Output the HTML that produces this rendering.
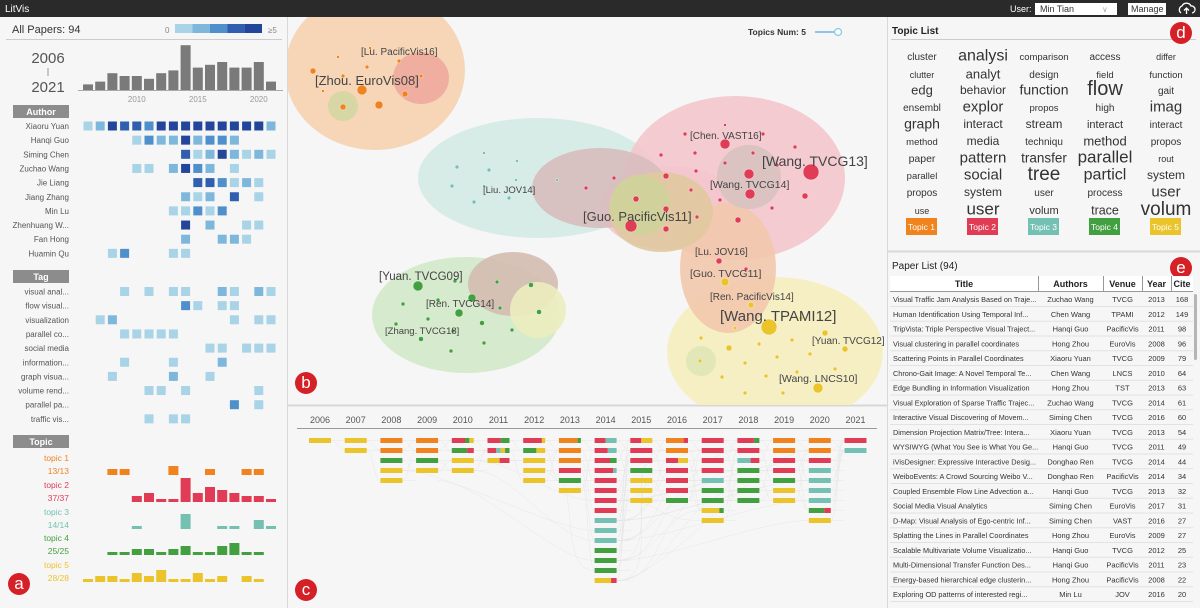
<!DOCTYPE html>
<html><head><meta charset="utf-8">
<style>
html,body{margin:0;padding:0;background:#f6f6f6;width:1200px;height:608px;overflow:hidden;font-family:"Liberation Sans",sans-serif}
svg text{font-family:"Liberation Sans",sans-serif}
</style></head>
<body>
<svg id="s" width="1200" height="608" viewBox="0 0 1200 608" xmlns="http://www.w3.org/2000/svg">
<rect x="0" y="0" width="1200" height="608" fill="#f6f6f6"/>
<g>
<rect x="0" y="0" width="1200" height="17" fill="#2a2a2a"/>
<text x="5" y="12" fill="#fff" font-size="10">LitVis</text>
<text x="1010" y="12" fill="#fff" font-size="9">User:</text>
<g><rect x="1035" y="3" width="82" height="12" fill="#fff"/><text x="1040" y="12" font-size="9" fill="#333">Min Tian</text><text x="1102" y="12" font-size="8" fill="#aaa">∨</text></g>
<g><rect x="1128" y="3" width="38" height="12" fill="#fff"/><text x="1131" y="12" font-size="9" fill="#333">Manage</text></g>
<g><path d="M1181 13 a4 4 0 0 1 1-7 a5 5 0 0 1 9 0 a3.5 3.5 0 0 1 1 7" fill="none" stroke="#fff" stroke-width="1.3"/><path d="M1186.5 14 v-6 m-2.5 2.5 l2.5-2.5 2.5 2.5" fill="none" stroke="#fff" stroke-width="1.3"/></g>
</g>
<line x1="287.5" y1="17" x2="287.5" y2="608" stroke="#d8d8d8"/>
<line x1="887.5" y1="17" x2="887.5" y2="608" stroke="#d8d8d8"/>
<line x1="288" y1="405.5" x2="887" y2="405.5" stroke="#d8d8d8" stroke-width="2"/>
<line x1="888" y1="251.5" x2="1200" y2="251.5" stroke="#d8d8d8" stroke-width="2"/>
<g id="left"></g>
<g id="mid"></g>
<g id="flow"></g>
<g id="right"></g>
<g id="plist"></g>
</svg>
<script>
const years=[2006,2007,2008,2009,2010,2011,2012,2013,2014,2015,2016,2017,2018,2019,2020,2021];
const yearCounts=[2,3,6,5,5,4,6,7,16,8,9,10,8,8,10,3];
const authors=["Xiaoru Yuan","Hanqi Guo","Siming Chen","Zuchao Wang","Jie Liang","Jiang Zhang","Min Lu","Zhenhuang W...","Fan Hong","Huamin Qu"];
const authorLevels=[
[1,2,5,4,4,3,5,5,5,5,5,5,5,5,5,2],
[0,0,0,0,1,3,2,2,5,2,3,3,2,0,0,0],
[0,0,0,0,0,0,0,0,4,1,2,5,2,1,2,1],
[0,0,0,0,1,1,0,2,5,3,2,0,1,0,0,0],
[0,0,0,0,0,0,0,0,0,4,4,3,1,2,1,0],
[0,0,0,0,0,0,0,0,2,1,2,0,4,0,1,0],
[0,0,0,0,0,0,0,1,1,3,1,3,0,0,0,0],
[0,0,0,0,0,0,0,0,5,0,2,0,0,1,1,0],
[0,0,0,0,0,0,0,0,2,0,0,2,2,1,0,0],
[0,0,1,3,0,0,0,1,1,0,0,0,0,0,0,0]];
const tags=["visual anal...","flow visual...","visualization","parallel co...","social media","information...","graph visua...","volume rend...","parallel pa...","traffic vis..."];
const tagLevels=[
[0,0,0,1,0,1,0,1,1,0,0,2,1,0,2,1],
[0,0,0,0,0,0,0,0,3,1,0,1,1,0,0,0],
[0,1,2,0,0,0,0,0,0,0,0,0,1,0,1,1],
[0,0,0,1,1,1,1,1,0,0,0,0,0,0,0,0],
[0,0,0,0,0,0,0,0,0,0,1,1,0,1,1,1],
[0,0,0,1,0,0,0,1,0,0,0,2,0,0,0,0],
[0,0,1,0,0,0,0,2,0,0,1,0,0,0,0,0],
[0,0,0,0,0,1,1,0,1,0,0,0,0,0,1,0],
[0,0,0,0,0,0,0,0,0,0,0,0,3,0,1,0],
[0,0,0,0,0,1,0,1,1,0,0,0,0,0,0,0]];
const topicNames=["topic 1","topic 2","topic 3","topic 4","topic 5"];
const topicTotals=["13/13","37/37","14/14","25/25","28/28"];
const topicColors=["#f0831e","#e03c55","#74c1b3","#43a040","#ebc42c"];
const topicYear=[
[0,0,2,2,0,0,0,3,0,0,2,0,0,2,2,0],
[0,0,0,0,2,3,1,1,8,3,5,4,3,2,2,1],
[0,0,0,0,1,0,0,0,5,0,0,1,1,0,3,1],
[0,0,1,1,2,2,1,2,3,1,1,3,4,1,1,0],
[1,2,2,1,3,2,4,1,1,3,1,2,0,2,1,0]];
const levelColors=["#c9ddf0","#a9d3e6","#7db8dc","#4f8fcc","#2f5fae","#24469a"];

const NS="http://www.w3.org/2000/svg";
function el(p,tag,attrs,txt){const e=document.createElementNS(NS,tag);for(const k in attrs)e.setAttribute(k,attrs[k]);if(txt!==undefined)e.textContent=txt;p.appendChild(e);return e;}
function badge(p,x,y,ch,name){const g=el(p,"g",{});el(g,"circle",{cx:x,cy:y,r:11,fill:"#d42026"});el(g,"text",{x:x,y:y+5,fill:"#fff","font-size":17,"text-anchor":"middle"},ch);}

// ---------- left panel ----------
const L=document.getElementById("left");
const xYear=i=>88+i*12.2;
el(L,"text",{x:12,y:33,"font-size":11,fill:"#333"},"All Papers: 94");
el(L,"text",{x:165,y:33,"font-size":8,fill:"#888"},"0");
for(let i=0;i<5;i++){const r=el(L,"rect",{x:175+i*17.4,y:24,width:17.4,height:9,fill:levelColors[i+1]});}
el(L,"text",{x:268,y:33,"font-size":8,fill:"#888"},"≥5");
el(L,"line",{x1:6,y1:39.5,x2:282,y2:39.5,stroke:"#ccc"});
el(L,"text",{x:48,y:63,"font-size":15,fill:"#555","text-anchor":"middle"},"2006");
el(L,"line",{x1:48,y1:68,x2:48,y2:76,stroke:"#999"});
el(L,"text",{x:48,y:92,"font-size":15,fill:"#555","text-anchor":"middle"},"2021");
const histBase=90, histUnit=2.8;
yearCounts.forEach((c,i)=>{const r=el(L,"rect",{x:xYear(i)-5,y:histBase-c*histUnit,width:10,height:c*histUnit,fill:"#7a7a7a"});});
el(L,"line",{x1:78,y1:histBase+0.5,x2:283,y2:histBase+0.5,stroke:"#aaa"});
[2010,2015,2020].forEach(y=>el(L,"text",{x:xYear(y-2006),y:102,"font-size":8,fill:"#999","text-anchor":"middle"},String(y)));
function header(y,label,name){const g=el(L,"g",{});el(g,"rect",{x:13,y:y,width:56,height:13,fill:"#8c8c8c"});el(g,"text",{x:41,y:y+10,"font-size":9,fill:"#fff","text-anchor":"middle","font-weight":"bold"},label);}
header(105,"Author","author-section-header");
function matrix(names,levels,y0,nm){names.forEach((n,r)=>{const y=y0+r*14.15;el(L,"text",{x:69,y:y+3,"font-size":8,fill:"#555","text-anchor":"end"},n);levels[r].forEach((v,i)=>{if(!v)return;const c=el(L,"rect",{x:xYear(i)-4.5,y:y-4.5,width:9,height:9,fill:levelColors[v]});});});}
matrix(authors,authorLevels,126,'author-year-cell');
header(270,"Tag","tag-section-header");
matrix(tags,tagLevels,291.5,'tag-year-cell');
header(435,"Topic","topic-section-header");
const topicBase=[475,502,529,555,582];
topicNames.forEach((n,t)=>{el(L,"text",{x:69,y:topicBase[t]-14,"font-size":8.5,fill:topicColors[t],"text-anchor":"end"},n);el(L,"text",{x:69,y:topicBase[t]-1,"font-size":8.5,fill:topicColors[t],"text-anchor":"end"},topicTotals[t]);
topicYear[t].forEach((v,i)=>{if(!v)return;const r=el(L,"rect",{x:xYear(i)-5,y:topicBase[t]-v*3,width:10,height:v*3,fill:topicColors[t]});});});
badge(L,19,584,"a","panel-a-badge");

// ---------- middle topic map ----------
const M=document.getElementById("mid");
el(M,"defs",{}).innerHTML='<clipPath id="mc"><rect x="288" y="17" width="599" height="388"/></clipPath>';
const G=el(M,"g",{"clip-path":"url(#mc)"});
const blobs=[
["ellipse",{cx:375,cy:70,rx:90,ry:80,fill:"#f6d3b0"}],
["ellipse",{cx:421,cy:78,rx:28,ry:26,fill:"#eeaa9c"}],
["circle",{cx:343,cy:106,r:15,fill:"#d4d7a4"}],
["ellipse",{cx:538,cy:178,rx:120,ry:60,fill:"#d5ebe5"}],
["ellipse",{cx:735,cy:178,rx:110,ry:82,fill:"#f3c6cc"}],
["ellipse",{cx:670,cy:208,rx:70,ry:42,fill:"#f3c6cc"}],
["ellipse",{cx:600,cy:188,rx:68,ry:40,fill:"#d8bcbc"}],
["ellipse",{cx:775,cy:352,rx:108,ry:75,fill:"#f6eebf"}],
["ellipse",{cx:728,cy:268,rx:48,ry:65,fill:"#f3c8ad"}],
["ellipse",{cx:661,cy:212,rx:52,ry:40,fill:"#e0c9a0"}],
["circle",{cx:640,cy:205,r:30,fill:"#cfd39a"}],
["circle",{cx:749,cy:177,r:32,fill:"#d8c2c0"}],
["ellipse",{cx:466,cy:315,rx:94,ry:58,fill:"#d3e9c9"}],
["ellipse",{cx:513,cy:284,rx:45,ry:32,fill:"#d4bcb0"}],
["circle",{cx:538,cy:310,r:28,fill:"#ecedbf"}],
["circle",{cx:701,cy:361,r:15,fill:"#dfe5b5"}]];
blobs.forEach(b=>{const e=el(G,b[0],Object.assign({opacity:0.9},b[1]));});
const dotX=[370,338,399,367,313,343,421,323,362,405,379,343,
484,517,457,489,516,557,452,484,509,474,
725,685,763,725,695,753,795,661,725,777,811,696,749,666,614,691,750,805,586,636,720,666,772,697,738,631,666,719,746,
418,455,497,531,472,403,438,500,459,539,428,396,482,453,512,421,484,451,
725,751,769,735,801,701,825,729,759,792,845,700,777,810,745,722,766,797,835,818,745,783];
const dotY=[48,57,61,67,71,76,76,91,90,94,105,107,
153,161,167,170,180,180,186,186,198,202,
125,134,134,144,153,153,147,155,163,165,172,171,174,176,178,190,194,196,188,199,200,209,208,217,220,226,229,261,269,
286,281,282,285,298,304,300,308,313,312,319,324,323,331,330,339,343,351,
282,305,327,328,318,338,333,348,344,340,349,361,357,354,363,377,376,372,369,388,393,393];
const dotR=[1.5,1.5,2,2,3,2,2,1.5,5,3,4,3,
1.5,1.5,2,2,1.5,1.5,2,1.5,2,2,
1.5,2,2,5,2,2,2,2,2,2,8,2,5,3,2,2,5,3,2,3,2,3,2,2,3,6,3,3,2,
5,2,2,2.5,4,2,2,2,4,2.5,2,2,2.5,2,2,2.5,2,2,
4,3,8,2,2,2,3,3,2,2,3,2,2,2,2,2,2,2,2,5,2,2];
const dotT=[0,0,0,0,0,0,0,0,0,0,0,0,
2,2,2,2,2,2,2,2,2,2,
1,1,1,1,1,1,1,1,1,1,1,1,1,1,1,1,1,1,1,1,1,1,1,1,1,1,1,1,1,
3,3,3,3,3,3,3,3,3,3,3,3,3,3,3,3,3,3,
4,4,4,4,4,4,4,4,4,4,4,4,4,4,4,4,4,4,4,4,4,4];
dotX.forEach((x,i)=>{const c=el(G,"circle",{cx:x,cy:dotY[i],r:dotR[i],fill:topicColors[dotT[i]],stroke:"#fff","stroke-width":0.4});});
const labels=[["[Lu. PacificVis16]",361,55,10],["[Zhou. EuroVis08]",315,85,13],["[Chen. VAST16]",690,139,10],["[Wang. TVCG13]",762,166,14],["[Wang. TVCG14]",710,188,10.5],["[Liu. JOV14]",483,193,9.5],["[Guo. PacificVis11]",583,221,13],["[Lu. JOV16]",695,255,10],["[Guo. TVCG11]",690,277,10.5],["[Ren. PacificVis14]",710,300,10],["[Wang. TPAMI12]",720,321,15],["[Yuan. TVCG12]",812,344,10],["[Wang. LNCS10]",779,382,10.5],["[Yuan. TVCG09]",379,280,11.5],["[Ren. TVCG14]",426,307,10],["[Zhang. TVCG18]",385,334,9.5]];
labels.forEach(l=>{const t=el(G,"text",{x:l[1],y:l[2],"font-size":l[3],fill:"#444"},l[0]);});
el(M,"text",{x:748,y:35,"font-size":8.5,fill:"#333","font-weight":"bold"},"Topics Num: 5");
const sl=el(M,"g",{});
el(sl,"line",{x1:815,y1:32,x2:836,y2:32,stroke:"#8cc8e8","stroke-width":2});
el(sl,"circle",{cx:838,cy:32,r:3.5,fill:"#fff",stroke:"#8cc8e8","stroke-width":1.3});
badge(M,306,383,"b","panel-b-badge");

// ---------- topic flow ----------
const F=document.getElementById("flow");
const flowCols=[
["Y"],["Y","Y"],["O","O","G","Y","Y"],["O","O","G","Y"],
["R.6G.2Y.2","G.7R.3","Y","Y"],["R.6G.4","R.4T.2Y.2G.2","Y.55R.45"],
["R.85Y.15","G.6Y.4","Y","Y","Y"],["O.85G.15","O","O","R","G","Y"],
["R.5T.5","R.6T.4","R.7G.3","R.85T.15","R","R","R","R","T","T","T","G","G","G","Y.75R.25"],
["R.5Y.5","R","R","G","Y","Y","Y"],["O.8R.2","O","R.55Y.45","R","R","R","G"],
["R","R","R","R","T","G","G","Y.8G.2","Y"],["R.75G.25","R","T.6R.4","G","G","G","G"],
["O","O","R","R","G","Y","Y"],["O","O","R","T","T","T","T","G.7R.3","Y"],["R","T"]];
const codeIdx={O:0,R:1,T:2,G:3,Y:4};
const fx=i=>320+i*35.7, fy=r=>438+r*10;
years.forEach((y,i)=>el(F,"text",{x:fx(i),y:423,"font-size":9,fill:"#555","text-anchor":"middle"},String(y)));
el(F,"line",{x1:297,y1:428.5,x2:877,y2:428.5,stroke:"#999"});
const LG=el(F,"g",{stroke:"#d4d4d4","stroke-width":0.4,fill:"none",opacity:0.55});
for(let i=0;i<flowCols.length-1;i++){const a=flowCols[i].length,b=flowCols[i+1].length;for(let r=0;r<a;r++){[r,(r*3+1)%b].forEach(t=>{const x1=fx(i)+11,x2=fx(i+1)-11,y1=fy(r)+2.5,y2=fy(t)+2.5;el(LG,"path",{d:`M${x1} ${y1}C${(x1+x2)/2} ${y1} ${(x1+x2)/2} ${y2} ${x2} ${y2}`});});}}
for(let r=6;r<15;r+=2){[10,11,12,14].forEach(j=>{const x1=fx(8)+11,x2=fx(j)-11,y1=fy(r)+2.5,y2=fy((r+j)%flowCols[j].length)+2.5;el(LG,"path",{d:`M${x1} ${y1}C${x1+50} ${y1} ${x2-50} ${y2} ${x2} ${y2}`});});}
[[2,3,8,9],[3,4,8,12],[4,2,8,6],[6,3,8,13],[4,3,8,10]].forEach(p=>{const x1=fx(p[0])+11,x2=fx(p[2])-11,y1=fy(p[1])+2.5,y2=fy(p[3])+2.5;el(LG,"path",{d:`M${x1} ${y1}C${x1+40} ${y1} ${x2-40} ${y2} ${x2} ${y2}`});});
flowCols.forEach((col,i)=>{col.forEach((spec,r)=>{const parts=spec.match(/[ORTGY](\.\d+)?/g);let x=fx(i)-11;parts.forEach(p=>{const w=22*(p.length>1?parseFloat("0"+p.slice(1)):1);const rc=el(F,"rect",{x:x,y:fy(r),width:w,height:5,fill:topicColors[codeIdx[p[0]]]});x+=w;});});});
badge(F,306,590,"c","panel-c-badge");

// ---------- topic list ----------
const R=document.getElementById("right");
el(R,"text",{x:892,y:34,"font-size":10,fill:"#222","font-weight":"bold"},"Topic List");
el(R,"line",{x1:891,y1:39.5,x2:1196,y2:39.5,stroke:"#ccc"});
const words=[
[["cluster",10],["clutter",9],["edg",13],["ensembl",10],["graph",14],["method",9.5],["paper",10.5],["parallel",9.5],["propos",10],["use",9]],
[["analysi",16],["analyt",13],["behavior",12],["explor",15],["interact",12],["media",12],["pattern",15],["social",15],["system",12],["user",17]],
[["comparison",9.5],["design",10],["function",14],["propos",9.5],["stream",12],["techniqu",10],["transfer",13.5],["tree",19],["user",10],["volum",11]],
[["access",10],["field",9.5],["flow",20],["high",10],["interact",11],["method",13],["parallel",17],["particl",16],["process",10],["trace",12.5]],
[["differ",9],["function",9.5],["gait",10],["imag",15],["interact",10],["propos",10],["rout",9],["system",12],["user",15],["volum",19]]];
const wordRowY=[59,77,93,110,127,144,161,178,195,213];
words.forEach((col,c)=>col.forEach((w,r)=>{const t=el(R,"text",{x:922+c*61,y:wordRowY[r]+w[1]*0.1,"font-size":w[1],fill:"#333","text-anchor":"middle"},w[0]);}));
["Topic 1","Topic 2","Topic 3","Topic 4","Topic 5"].forEach((n,c)=>{const g=el(R,"g",{});el(g,"rect",{x:906+c*61,y:218,width:31,height:17,fill:topicColors[c]});el(g,"text",{x:921.5+c*61,y:230,"font-size":8.5,fill:"#fff","text-anchor":"middle"},n);});
badge(R,1181,33,"d","panel-d-badge");

// ---------- paper list ----------
const P=document.getElementById("plist");
el(P,"text",{x:892,y:269,"font-size":10,fill:"#222"},"Paper List (94)");
badge(P,1181,268,"e","panel-e-badge");
const colX=[890,1038,1103,1142,1171,1193];
el(P,"rect",{x:890,y:276,width:303,height:15,fill:"#fff"});
["Title","Authors","Venue","Year","Cite"].forEach((h,i)=>{el(P,"text",{x:(colX[i]+colX[i+1])/2,y:287,"font-size":9,fill:"#222","text-anchor":"middle","font-weight":"bold"},h);if(i>0)el(P,"line",{x1:colX[i]+0.5,y1:276,x2:colX[i]+0.5,y2:291,stroke:"#999"});});
el(P,"line",{x1:890,y1:291.5,x2:1193,y2:291.5,stroke:"#999"});
const rows=[
["Visual Traffic Jam Analysis Based on Traje...","Zuchao Wang","TVCG","2013","168"],
["Human Identification Using Temporal Inf...","Chen Wang","TPAMI","2012","149"],
["TripVista: Triple Perspective Visual Traject...","Hanqi Guo","PacificVis","2011","98"],
["Visual clustering in parallel coordinates","Hong Zhou","EuroVis","2008","96"],
["Scattering Points in Parallel Coordinates","Xiaoru Yuan","TVCG","2009","79"],
["Chrono-Gait Image: A Novel Temporal Te...","Chen Wang","LNCS","2010","64"],
["Edge Bundling in Information Visualization","Hong Zhou","TST","2013","63"],
["Visual Exploration of Sparse Traffic Trajec...","Zuchao Wang","TVCG","2014","61"],
["Interactive Visual Discovering of Movem...","Siming Chen","TVCG","2016","60"],
["Dimension Projection Matrix/Tree: Intera...","Xiaoru Yuan","TVCG","2013","54"],
["WYSIWYG (What You See is What You Ge...","Hanqi Guo","TVCG","2011","49"],
["iVisDesigner: Expressive Interactive Desig...","Donghao Ren","TVCG","2014","44"],
["WeiboEvents: A Crowd Sourcing Weibo V...","Donghao Ren","PacificVis","2014","34"],
["Coupled Ensemble Flow Line Advection a...","Hanqi Guo","TVCG","2013","32"],
["Social Media Visual Analytics","Siming Chen","EuroVis","2017","31"],
["D-Map: Visual Analysis of Ego-centric Inf...","Siming Chen","VAST","2016","27"],
["Splatting the Lines in Parallel Coordinates","Hong Zhou","EuroVis","2009","27"],
["Scalable Multivariate Volume Visualizatio...","Hanqi Guo","TVCG","2012","25"],
["Multi-Dimensional Transfer Function Des...","Hanqi Guo","PacificVis","2011","23"],
["Energy-based hierarchical edge clusterin...","Hong Zhou","PacificVis","2008","22"],
["Exploring OD patterns of interested regi...","Min Lu","JOV","2016","20"]];
rows.forEach((r,i)=>{const y=299+i*14.75;const g=el(P,"g",{});
el(g,"text",{x:893,y:y+3,"font-size":7.3,fill:"#333"},r[0]);
for(let c=1;c<5;c++)el(g,"text",{x:(colX[c]+colX[c+1])/2,y:y+3,"font-size":7.5,fill:"#333","text-anchor":"middle"},r[c]);
el(g,"line",{x1:890,y1:y+7.5,x2:1193,y2:y+7.5,stroke:"#e2e2e2"});});
const sb=el(P,"rect",{x:1194,y:294,width:3,height:66,fill:"#b5b5b5",rx:1.5});
</script>
</body></html>
